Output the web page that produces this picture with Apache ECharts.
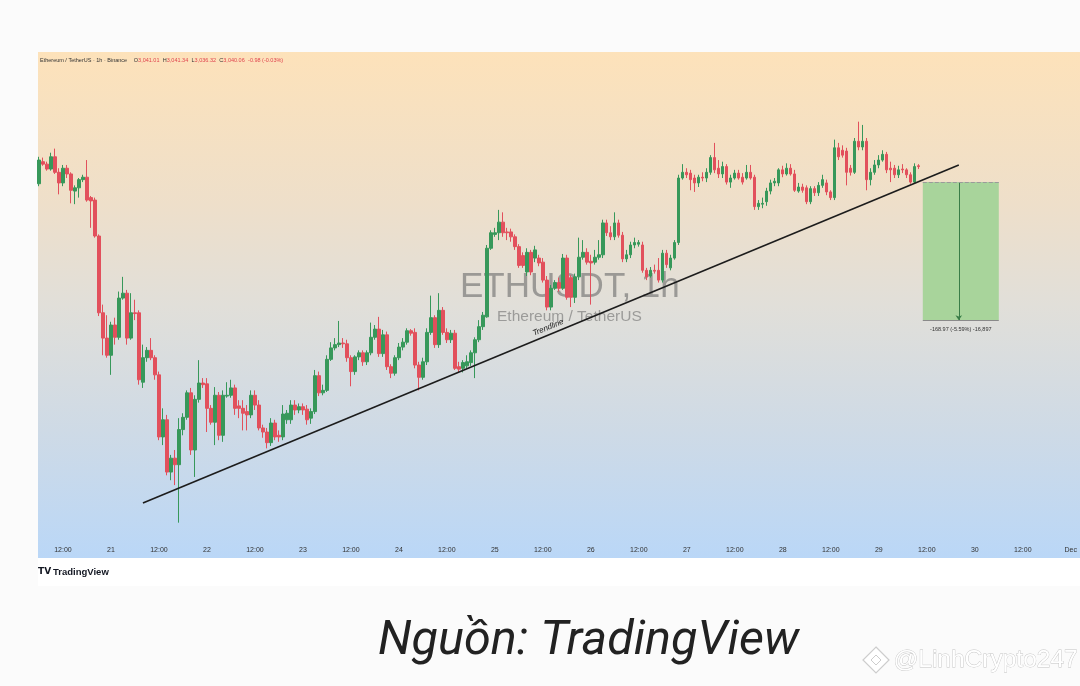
<!DOCTYPE html>
<html><head><meta charset="utf-8">
<script src="https://cdn.jsdelivr.net/npm/echarts@6/dist/echarts.min.js"></script>
<style>html,body{margin:0;padding:0;background:#fbfbfb}#c{width:1080px;height:686px}</style>
</head><body><div id="c"></div>
<script>
// ---- time axis (hourly candles, ETHUSDT 1h, Binance) ----
const firstCandleUTC = Date.UTC(2025, 10, 20, 6); // 20 Nov 06:00
const slotCount = 260;                              // hourly slots shown up to 1 Dec 01:00
const monthShort = ['Jan','Feb','Mar','Apr','May','Jun','Jul','Aug','Sep','Oct','Nov','Dec'];

// ---- OHLC values (USDT) ----
const opens = [
3020,3047,3044,3038,3053,3034,3021,3039,3032,3011,
3015,3025,3028,3003,3000,2956,2862,2831,2810,2847,
2832,2880,2886,2831,2862,2862,2777,2807,2816,2807,
2786,2710,2731,2667,2684,2676,2719,2734,2764,2694,
2756,2776,2775,2745,2728,2761,2712,2760,2761,2770,
2748,2745,2741,2737,2761,2749,2721,2716,2703,2727,
2712,2710,2731,2731,2749,2743,2747,2744,2733,2741,
2785,2764,2767,2805,2819,2823,2825,2824,2807,2790,
2808,2813,2802,2813,2832,2842,2812,2835,2796,2788,
2807,2820,2826,2840,2838,2798,2783,2802,2838,2856,
2823,2865,2838,2829,2837,2796,2794,2797,2801,2813,
2829,2845,2857,2941,2958,2960,2973,2961,2961,2955,
2943,2932,2912,2936,2929,2929,2924,2902,2869,2892,
2899,2892,2929,2905,2881,2906,2930,2936,2925,2924,
2930,2933,2972,2960,2955,2972,2957,2928,2933,2945,
2946,2945,2914,2907,2914,2914,2902,2935,2917,2929,
2948,3027,3034,3033,3027,3021,3028,3027,3034,3052,
3039,3032,3041,3022,3027,3033,3028,3027,3034,
3028,2992,2995,2998,3011,3021,3021,3037,3032,3039,
3032,3011,3016,3015,2998,3014,3009,3018,3021,3010,
3003,3064,3061,3060,3039,3034,3072,3065,3072,3025,
3034,3043,3049,3056,3039,3039,3031,3038,3037,3031,
3022,3042];
const closes = [
3049,3044,3038,3053,3034,3021,3039,3032,3012,3015,
3025,3028,3000,2999,2956,2862,2831,2810,2847,2832,
2880,2886,2831,2862,2861,2780,2807,2816,2807,2786,
2710,2731,2667,2684,2676,2719,2734,2764,2694,2756,
2776,2774,2745,2728,2761,2712,2761,2761,2770,2745,
2745,2739,2737,2761,2749,2721,2716,2703,2727,2710,
2710,2738,2739,2749,2743,2747,2743,2731,2741,2785,
2764,2767,2805,2819,2823,2825,2824,2807,2790,2808,
2813,2802,2813,2832,2842,2812,2835,2796,2788,2807,
2820,2826,2840,2837,2798,2783,2802,2838,2856,2823,
2865,2838,2829,2837,2794,2793,2801,2802,2813,2829,
2845,2859,2941,2960,2960,2973,2960,2960,2955,2943,
2920,2920,2936,2912,2939,2923,2902,2869,2892,2899,
2892,2929,2881,2881,2906,2930,2936,2924,2923,2930,
2933,2972,2960,2955,2972,2957,2928,2933,2945,2948,
2948,2914,2906,2914,2913,2902,2935,2921,2929,2948,
3027,3034,3031,3025,3021,3028,3027,3034,3052,3037,
3032,3041,3022,3027,3033,3027,3022,3034,3027,
2992,2996,2996,3011,3021,3023,3037,3032,3039,3032,
3012,3016,3012,2998,3014,3009,3018,3025,3010,3003,
3064,3053,3055,3034,3034,3072,3065,3072,3025,3034,
3043,3049,3056,3037,3037,3031,3037,3037,3031,3022,
3041,3041];
const lows = [
3017,3042,3036,3036,3032,3007,3017,3027,2996,2995,
3003,3022,2998,2966,2954,2858,2810,2807,2786,2823,
2829,2878,2823,2829,2853,2774,2770,2802,2804,2780,
2706,2700,2663,2657,2651,2605,2712,2731,2688,2661,
2752,2770,2716,2725,2700,2706,2704,2758,2758,2737,
2733,2718,2718,2733,2743,2718,2709,2696,2699,2706,
2704,2706,2726,2726,2737,2739,2737,2725,2726,2738,
2760,2761,2765,2803,2816,2820,2819,2802,2772,2786,
2804,2797,2798,2810,2829,2808,2808,2792,2782,2785,
2804,2816,2823,2834,2794,2767,2780,2798,2835,2819,
2819,2835,2825,2825,2792,2789,2789,2794,2797,2782,
2826,2841,2856,2939,2955,2951,2955,2951,2949,2939,
2917,2917,2907,2908,2924,2919,2899,2865,2865,2890,
2888,2890,2878,2869,2874,2902,2927,2921,2872,2921,
2927,2929,2956,2951,2951,2954,2924,2924,2929,2941,
2943,2911,2902,2905,2910,2899,2899,2917,2914,2927,
2945,3025,3027,3012,3010,3016,3023,3022,3031,3033,
3027,3027,3019,3015,3025,3025,3019,3025,3025,
2988,2988,2990,2993,3007,3017,3017,3028,3030,3030,
3010,3009,3009,2995,2995,3005,3005,3015,3006,3000,
3000,3049,3052,3018,3030,3032,3061,3061,3012,3018,
3031,3039,3047,3033,3022,3027,3027,3033,3027,3020,
3020,3038];
const highs = [
3053,3052,3047,3058,3063,3039,3043,3043,3034,3018,
3027,3031,3049,3005,3003,2958,2872,2859,2851,2856,
2888,2906,2890,2886,2878,2865,2823,2820,2831,2810,
2790,2745,2737,2688,2694,2733,2739,2767,2770,2761,
2804,2782,2782,2749,2771,2765,2767,2777,2780,2774,
2755,2755,2749,2767,2767,2755,2725,2721,2733,2731,
2718,2749,2743,2755,2755,2751,2751,2749,2745,2792,
2790,2774,2810,2826,2831,2852,2831,2829,2810,2810,
2816,2816,2816,2850,2847,2857,2841,2839,2799,2810,
2825,2831,2843,2842,2843,2802,2807,2843,2883,2859,
2886,2869,2843,2841,2841,2802,2804,2810,2816,2832,
2853,2863,2945,2963,2966,2988,2985,2966,2965,2958,
2946,2936,2941,2939,2944,2933,2929,2907,2896,2902,
2905,2934,2933,2908,2910,2954,2951,2941,2933,2939,
2951,2976,2976,2968,2985,2976,2961,2939,2949,2954,
2951,2949,2917,2918,2921,2929,2939,2939,2933,2951,
3031,3044,3039,3037,3031,3031,3034,3039,3055,3070,
3049,3047,3044,3031,3037,3037,3033,3043,3043,
3031,3000,3003,3015,3025,3027,3039,3042,3045,3044,
3037,3021,3020,3018,3017,3017,3022,3031,3025,3012,
3074,3070,3067,3064,3043,3076,3096,3092,3076,3039,
3049,3055,3061,3059,3047,3043,3042,3044,3039,3034,
3045,3044];

// ---- drawings ----
const trendFromSlot = 26,  trendFromPrice = 2629;
const trendToSlot = 230,   trendToPrice = 3043;
const measureFromSlot = 221, measureToSlot = 240, measureMidSlot = 230;
const measureTopPrice = 3022, measureBottomPrice = 2853;
const measureText = '-168.97 (-5.59%) -16,897';
const priceMin = 2583.8, priceMax = 3181.3;

const cats = [];
for (let k = 0; k < slotCount; k++) cats.push(new Date(firstCandleUTC + k * 3600000).toISOString().slice(0, 16));
const candles = opens.map((o, i) => [o, closes[i], lows[i], highs[i]]);

const UP = '#37985a', DOWN = '#e2505c';
const chart = echarts.init(document.getElementById('c'), null, {renderer: 'canvas'});
const grad = new echarts.graphic.LinearGradient(0, 0, 0, 1, [
  {offset: 0, color: '#fde2ba'}, {offset: 0.3, color: '#eedfca'},
  {offset: 0.5, color: '#e1dfd9'}, {offset: 0.75, color: '#cedae6'},
  {offset: 1, color: '#bad7f7'}]);

chart.setOption({
  backgroundColor: '#fbfbfb',
  animation: false,
  grid: {left: 38.94, right: 2.4, top: 52, bottom: 146},
  xAxis: {
    type: 'category', data: cats, boundaryGap: false,
    axisLine: {show: false}, axisTick: {show: false}, splitLine: {show: false},
    axisLabel: {
      interval: (idx, v) => { const h = +v.slice(11, 13); return h === 0 || h === 12; },
      formatter: v => {
        const h = +v.slice(11, 13), d = +v.slice(8, 10), m = +v.slice(5, 7);
        if (h === 12) return '12:00';
        return d === 1 ? monthShort[m - 1] : String(d);
      },
      fontSize: 7, color: '#333333', margin: 7, fontFamily: 'Liberation Sans'
    }
  },
  yAxis: {type: 'value', min: priceMin, max: priceMax, show: false},
  series: [{
    type: 'candlestick', data: candles, barWidth: 2.8, clip: true,
    itemStyle: {color: UP, color0: DOWN, borderColor: UP, borderColor0: DOWN, borderWidth: 1},
    markLine: {
      silent: true, symbol: 'none', animation: false,
      data: [
        [{coord: [cats[trendFromSlot], trendFromPrice], lineStyle: {color: '#1c1c1c', width: 1.6, type: 'solid'},
          label: {show: true, formatter: 'Trendline', position: 'middle', fontSize: 8, fontStyle: 'italic',
                  color: '#1c1c1c', distance: 3, fontFamily: 'Liberation Sans'}},
         {coord: [cats[trendToSlot], trendToPrice]}],
        [{coord: [cats[measureMidSlot], measureTopPrice], lineStyle: {color: '#3a7d48', width: 1, type: 'solid'}, label: {show: false}, symbol: 'none'},
         {coord: [cats[measureMidSlot], measureBottomPrice], symbol: 'arrow', symbolSize: 5}],
        [{coord: [cats[measureFromSlot], measureTopPrice], lineStyle: {color: '#9a9a9a', width: 1, type: 'dashed'}, label: {show: false}},
         {coord: [cats[measureToSlot], measureTopPrice]}],
        [{coord: [cats[measureFromSlot], measureBottomPrice], lineStyle: {color: '#8a8a8a', width: 1, type: 'solid'}, label: {show: false}},
         {coord: [cats[measureToSlot], measureBottomPrice]}]
      ]
    },
    markArea: {
      silent: true,
      data: [[
        {coord: [cats[measureFromSlot], measureTopPrice], itemStyle: {color: '#a8d49b'},
         label: {show: true, position: 'bottom', formatter: measureText, fontSize: 5.5, color: '#333', distance: 6,
                 fontFamily: 'Liberation Sans'}},
        {coord: [cats[measureToSlot], measureBottomPrice]}
      ]]
    }
  }],
  graphic: [
    {type: 'rect', z: -20, silent: true, shape: {x: 38, y: 52, width: 1042, height: 506}, style: {fill: grad}},
    {type: 'rect', z: -20, silent: true, shape: {x: 38, y: 558, width: 1042, height: 28}, style: {fill: '#ffffff'}},
    {type: 'text', z: -10, silent: true, left: 460, top: 270,
     style: {text: 'ETHUSDT, 1h', fontSize: 35, fontFamily: 'Liberation Sans', fill: 'rgba(110,110,110,0.62)'}},
    {type: 'text', z: -10, silent: true, left: 497, top: 309,
     style: {text: 'Ethereum / TetherUS', fontSize: 15.5, fontFamily: 'Liberation Sans', fill: 'rgba(110,110,110,0.6)'}},
    {type: 'text', z: 10, silent: true, left: 40, top: 54,
     style: {
       text: '{d|Ethereum / TetherUS · 1h · Binance}  {d|O}{r|3,041.01} {d|H}{r|3,041.34} {d|L}{r|3,036.32} {d|C}{r|3,040.06} {r|-0.98 (-0.03%)}',
       rich: {d: {fontSize: 5.5, fill: '#333', fontFamily: 'Liberation Sans'},
              r: {fontSize: 5.5, fill: '#e0444e', fontFamily: 'Liberation Sans'}}
     }},
    {type: 'text', z: 10, silent: true, left: 38, top: 567,
     style: {text: 'TV', fontSize: 9, fontWeight: 'bold', fontFamily: 'DejaVu Sans', fill: '#131722'}},
    {type: 'text', z: 10, silent: true, left: 53, top: 567,
     style: {text: 'TradingView', fontSize: 9.5, fontWeight: 'bold', fontFamily: 'Liberation Sans', fill: '#131722'}},
    {type: 'text', z: 10, silent: true, left: 378, top: 618,
     style: {text: 'Nguồn: TradingView', fontSize: 48.5, fontStyle: 'italic', fontFamily: 'Roboto', fill: '#222222'}},
    {type: 'polygon', z: 10, silent: true, shape: {points: [[876, 647], [889, 660], [876, 673], [863, 660]]},
     style: {fill: '#ffffff', stroke: '#cdcdcd', lineWidth: 1.2}},
    {type: 'polygon', z: 10, silent: true, shape: {points: [[876, 655], [881, 660], [876, 665], [871, 660]]},
     style: {fill: '#ffffff', stroke: '#cdcdcd', lineWidth: 1}},
    {type: 'text', z: 10, silent: true, left: 893, top: 647,
     style: {text: '@LinhCrypto247', fontSize: 24.5, fontFamily: 'Liberation Sans', fill: '#ffffff', stroke: '#c4c4c4', lineWidth: 0.8}}
  ]
});
</script>
</body></html>
